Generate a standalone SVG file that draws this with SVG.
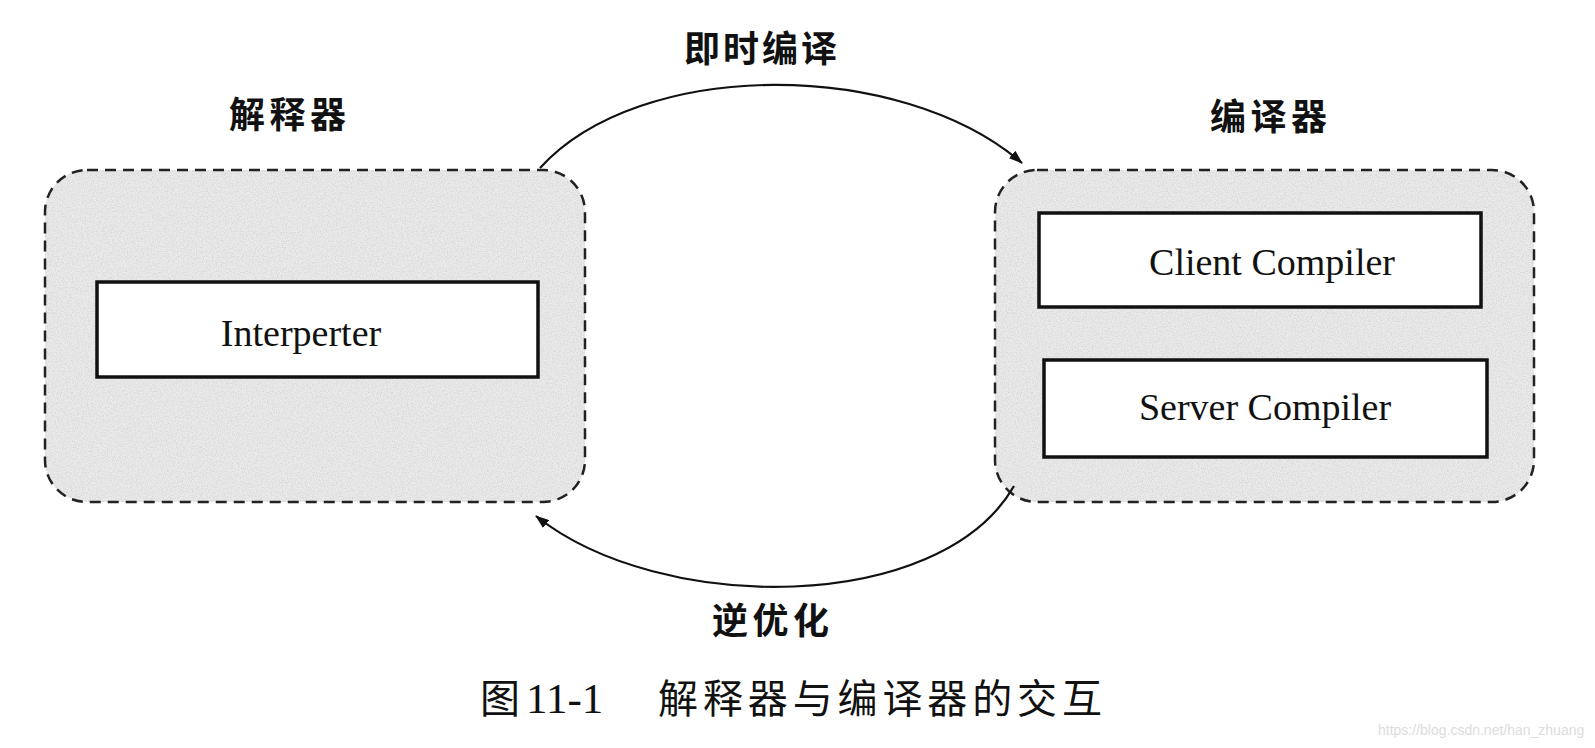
<svg xmlns="http://www.w3.org/2000/svg" width="1595" height="748" viewBox="0 0 1595 748">
  <style>
    .fill { fill: #eaeaea; stroke: none; }
    .container { fill: none; stroke: #222; stroke-width: 2.5; stroke-dasharray: 11 7; }
    .box { fill: #ffffff; stroke: #111; stroke-width: 3.5; }
    .boxtext { font-family: "Liberation Serif", "Times New Roman", serif; font-size: 38px; fill: #111; text-anchor: middle; }
    .label { font-family: "Noto Sans CJK SC", "Noto Sans", sans-serif; font-weight: bold; font-size: 36px; fill: #111; }
    .caption { font-family: "Liberation Serif", "Noto Sans CJK SC", serif; font-size: 43px; fill: #111; }
    .captioncjk { font-family: "Noto Sans CJK SC", sans-serif; font-size: 40px; fill: #111; }
    .edge { fill: none; stroke: #111; stroke-width: 2.2; }
    .wm { font-family: "Liberation Sans", Arial, sans-serif; font-size: 14px; fill: #dcdcdc; }
  </style>
  <defs>
    <marker id="arrow" viewBox="0 0 14 10" refX="13" refY="5" markerWidth="14" markerHeight="10" markerUnits="userSpaceOnUse" orient="auto">
      <path d="M0,0 L14,5 L0,10 Z" fill="#111"/>
    </marker>
    <filter id="grain" x="0" y="0" width="100%" height="100%">
      <feTurbulence type="fractalNoise" baseFrequency="0.8" numOctaves="2" seed="3" result="noise"/>
      <feColorMatrix in="noise" type="matrix" values="0 0 0 0 0.68  0 0 0 0 0.68  0 0 0 0 0.68  0 0 0 2.6 -1.05" result="spots"/>
      <feComposite in="spots" in2="SourceGraphic" operator="in" result="clipped"/>
      <feMerge><feMergeNode in="SourceGraphic"/><feMergeNode in="clipped"/></feMerge>
    </filter>
  </defs>
  <rect width="1595" height="748" fill="#ffffff"/>

  <g id="interpreter-group">
    <rect class="fill" x="45" y="170" width="540" height="332" rx="42" ry="42" filter="url(#grain)"/>
    <rect class="container" x="45" y="170" width="540" height="332" rx="42" ry="42"/>
    <text class="label" x="229" y="128" textLength="117" lengthAdjust="spacing">解释器</text>
  </g>
  <g id="interpreter">
    <rect class="box" x="97" y="282" width="441" height="95"/>
    <text class="boxtext" x="301" y="346">Interperter</text>
  </g>

  <g id="compiler-group">
    <rect class="fill" x="995" y="170" width="539" height="332" rx="42" ry="42" filter="url(#grain)"/>
    <rect class="container" x="995" y="170" width="539" height="332" rx="42" ry="42"/>
    <text class="label" x="1210" y="130" textLength="117" lengthAdjust="spacing">编译器</text>
  </g>
  <g id="client-compiler">
    <rect class="box" x="1039" y="213" width="442" height="94"/>
    <text class="boxtext" x="1272" y="275">Client Compiler</text>
  </g>
  <g id="server-compiler">
    <rect class="box" x="1044" y="360" width="443" height="97"/>
    <text class="boxtext" x="1265" y="420">Server Compiler</text>
  </g>

  <g id="connectors">
    <path class="edge" d="M540,168 C640,58 900,58 1022,163" marker-end="url(#arrow)"/>
    <path class="edge" d="M1014,486 C940,615 660,615 536,516" marker-end="url(#arrow)"/>
    <text class="label" x="684" y="62" textLength="153" lengthAdjust="spacing">即时编译</text>
    <text class="label" x="712" y="634" textLength="117" lengthAdjust="spacing">逆优化</text>
  </g>

  <g id="caption">
    <text class="captioncjk" x="480" y="713">图</text>
    <text class="caption" x="526" y="713">11-1</text>
    <text class="captioncjk" x="658" y="713" textLength="444" lengthAdjust="spacing">解释器与编译器的交互</text>
  </g>
  <text class="wm" x="1378" y="735">https://blog.csdn.net/han_zhuang</text>
</svg>
